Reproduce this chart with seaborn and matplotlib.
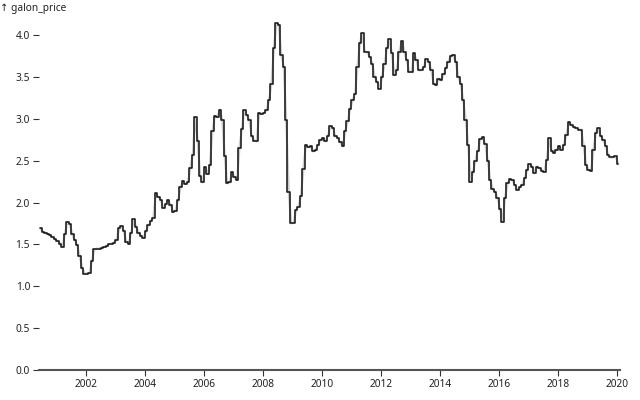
import pandas as pd
import numpy as np
import matplotlib
matplotlib.use("Agg")
import matplotlib.pyplot as plt
import matplotlib.dates as mdates
import seaborn as sns

# monthly mean gallon price, Jun 2000 .. Jan 2020
price_2000 = [1.69, 1.65, 1.64, 1.62, 1.61, 1.59, 1.56]
price_2001 = [1.54, 1.51, 1.47, 1.62, 1.77, 1.74, 1.62, 1.55, 1.49, 1.36, 1.22, 1.15]
price_2002 = [1.15, 1.16, 1.30, 1.44, 1.45, 1.45, 1.46, 1.47, 1.48, 1.50, 1.51, 1.52]
price_2003 = [1.55, 1.69, 1.72, 1.66, 1.53, 1.51, 1.64, 1.80, 1.71, 1.64, 1.60, 1.58]
price_2004 = [1.66, 1.73, 1.78, 1.82, 2.11, 2.07, 2.03, 1.94, 1.98, 2.03, 1.97, 1.89]
price_2005 = [1.90, 2.03, 2.18, 2.26, 2.22, 2.24, 2.41, 2.57, 3.02, 2.73, 2.32, 2.24]
price_2006 = [2.42, 2.34, 2.45, 2.85, 3.03, 3.02, 3.11, 2.99, 2.55, 2.23, 2.24, 2.36]
price_2007 = [2.30, 2.27, 2.65, 2.88, 3.10, 3.04, 2.99, 2.79, 2.74, 2.73, 3.07, 3.06]
price_2008 = [3.07, 3.10, 3.22, 3.42, 3.84, 4.14, 4.12, 3.76, 3.62, 2.98, 2.13, 1.75]
price_2009 = [1.76, 1.91, 1.95, 2.08, 2.40, 2.69, 2.66, 2.67, 2.61, 2.63, 2.69, 2.75]
price_2010 = [2.77, 2.73, 2.80, 2.91, 2.89, 2.79, 2.77, 2.72, 2.67, 2.85, 2.97, 3.12]
price_2011 = [3.22, 3.30, 3.62, 3.90, 4.02, 3.80, 3.80, 3.74, 3.66, 3.50, 3.44, 3.36]
price_2012 = [3.50, 3.66, 3.84, 3.95, 3.78, 3.52, 3.58, 3.80, 3.93, 3.80, 3.70, 3.56]
price_2013 = [3.56, 3.78, 3.70, 3.58, 3.58, 3.62, 3.71, 3.68, 3.58, 3.42, 3.40, 3.48]
price_2014 = [3.46, 3.53, 3.61, 3.68, 3.75, 3.76, 3.68, 3.50, 3.42, 3.22, 2.99, 2.69]
price_2015 = [2.25, 2.37, 2.50, 2.62, 2.76, 2.78, 2.70, 2.50, 2.27, 2.16, 2.13, 2.05]
price_2016 = [1.92, 1.77, 2.05, 2.23, 2.28, 2.27, 2.21, 2.15, 2.18, 2.21, 2.29, 2.39]
price_2017 = [2.46, 2.43, 2.35, 2.43, 2.41, 2.38, 2.37, 2.51, 2.77, 2.61, 2.59, 2.63]
price_2018 = [2.67, 2.63, 2.69, 2.81, 2.96, 2.93, 2.90, 2.89, 2.87, 2.87, 2.67, 2.45]
price_2019 = [2.39, 2.38, 2.63, 2.83, 2.89, 2.79, 2.75, 2.67, 2.57, 2.54, 2.54, 2.55]
price_2020 = [2.46]

prices = (price_2000 + price_2001 + price_2002 + price_2003 + price_2004 + price_2005
          + price_2006 + price_2007 + price_2008 + price_2009 + price_2010 + price_2011
          + price_2012 + price_2013 + price_2014 + price_2015 + price_2016 + price_2017
          + price_2018 + price_2019 + price_2020)

months = pd.date_range("2000-06-01", periods=len(prices), freq="MS") + pd.Timedelta(days=14)
df = pd.DataFrame({"date": months, "galon_price": prices})

sns.set_style("white")
plt.rcParams["font.family"] = ["Noto Sans", "DejaVu Sans"]

fig = plt.figure(figsize=(6.4, 4), dpi=100)
ax = fig.add_axes([39 / 640, 30 / 400, 581 / 640, 350 / 400])

# raw line in light gray, monthly step in black
sns.lineplot(data=df, x="date", y="galon_price", ax=ax, color="#cccccc", linewidth=1.6)
sns.lineplot(data=df, x="date", y="galon_price", ax=ax, color="#1a1a1a",
             linewidth=1.15, drawstyle="steps-mid")

ax.set_xlim(pd.Timestamp("2000-05-29"), pd.Timestamp("2020-02-07"))
ax.set_ylim(0, 4.18)
ax.set_yticks(np.arange(0, 4.01, 0.5))
ax.set_yticklabels([f"{v:.1f}" for v in np.arange(0, 4.01, 0.5)])
ax.xaxis.set_major_locator(mdates.YearLocator(2))
ax.xaxis.set_major_formatter(mdates.DateFormatter("%Y"))

for s in ["top", "right", "left"]:
    ax.spines[s].set_visible(False)
ax.spines["bottom"].set_color("#555555")
ax.spines["bottom"].set_linewidth(1.5)

ax.tick_params(axis="both", direction="out", length=4.3, width=0.8, color="#333333",
               labelsize=7.3, labelcolor="#222222", pad=2.2)
ax.tick_params(axis="x", bottom=True)
ax.tick_params(axis="y", left=True)
ax.set_xlabel("")
ax.set_ylabel("")

fig.text(0.0, 1 - 8 / 400, "↑ galon_price", fontsize=7.3, color="#222222",
         ha="left", va="center")

plt.savefig("out.png", dpi=100)
